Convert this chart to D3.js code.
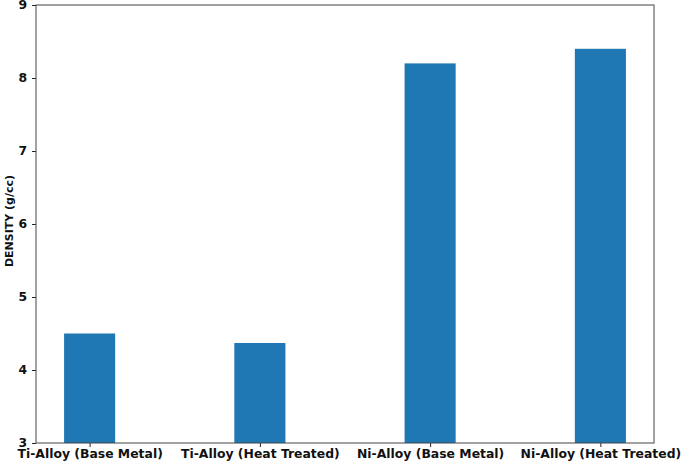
<!DOCTYPE html>
<html>
<head>
<meta charset="utf-8">
<script src="https://cdn.jsdelivr.net/npm/d3@7"></script>
<style>
  body { margin: 0; background: #fff; }
  text { font-family: "DejaVu Sans", sans-serif; font-weight: bold; }
</style>
</head>
<body>
<svg id="chart"></svg>
<script>
var categories = ["Ti-Alloy (Base Metal)", "Ti-Alloy (Heat Treated)", "Ni-Alloy (Base Metal)", "Ni-Alloy (Heat Treated)"];
var density = [4.5, 4.37, 8.2, 8.4];
var yTicks = [3, 4, 5, 6, 7, 8, 9];

var screen = {width: 685, height: 464};
var margins = {top: 5, right: 31, bottom: 21, left: 36};
var width = screen.width - margins.left - margins.right;
var height = screen.height - margins.top - margins.bottom;

var svg = d3.select("#chart")
    .attr("width", screen.width)
    .attr("height", screen.height);

var g = svg.append("g")
    .attr("transform", "translate(" + margins.left + "," + margins.top + ")");

// matplotlib style: bar width 0.3, 5% margins
var barW = 0.3;
var xScale = d3.scaleLinear()
    .domain([-0.315, 3.315])
    .range([0, width]);
var yScale = d3.scaleLinear()
    .domain([3, 9])
    .range([height, 0]);

g.selectAll(".bar")
    .data(density)
    .enter()
    .append("rect")
    .attr("class", "bar")
    .attr("x", function(d, i) { return xScale(i - barW / 2); })
    .attr("width", function() { return xScale(barW) - xScale(0); })
    .attr("y", function(d) { return yScale(d); })
    .attr("height", function(d) { return yScale(3) - yScale(d); })
    .attr("fill", "#1f77b4");

var yAxis = g.append("g")
    .call(d3.axisLeft(yScale).tickValues(yTicks).tickFormat(d3.format("d")).tickSize(4).tickPadding(5));
var xAxis = g.append("g")
    .attr("transform", "translate(0," + height + ")")
    .call(d3.axisBottom(xScale).tickValues([0, 1, 2, 3])
        .tickFormat(function(d) { return categories[d]; }).tickSize(4).tickPadding(2));

[yAxis, xAxis].forEach(function(ax) {
    ax.select(".domain").remove();
    ax.selectAll("line").attr("stroke", "#222");
    ax.selectAll("text").attr("font-size", 12.4).attr("fill", "#111");
});

// frame
g.append("rect")
    .attr("width", width)
    .attr("height", height)
    .attr("fill", "none")
    .attr("stroke", "#444")
    .attr("stroke-width", 1);

svg.append("text")
    .attr("transform", "translate(13," + (margins.top + height / 2 - 3) + ") rotate(-90)")
    .attr("text-anchor", "middle")
    .attr("font-size", 11)
    .attr("fill", "#111")
    .text("DENSITY (g/cc)");
</script>
</body>
</html>
